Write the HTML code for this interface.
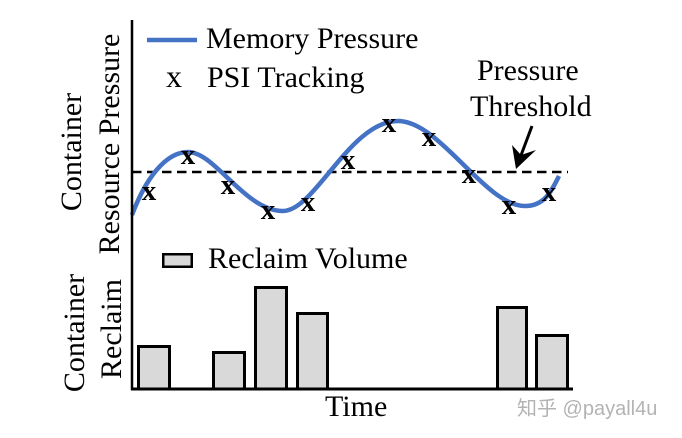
<!DOCTYPE html>
<html>
<head>
<meta charset="utf-8">
<style>
  html, body { margin: 0; padding: 0; background: #ffffff; }
  svg { display: block; }
  .t { font-family: "Liberation Serif", "Times New Roman", serif; font-size: 30px; fill: #000; }
  .m { font-family: "Liberation Serif", "Times New Roman", serif; font-size: 29px; font-weight: bold; fill: #000; }
  .wm { font-family: "Liberation Sans", "Noto Sans CJK SC", sans-serif; font-size: 20px; fill: #b3b3b3; }
</style>
</head>
<body>
<svg width="682" height="438" viewBox="0 0 682 438" xmlns="http://www.w3.org/2000/svg">
  <rect x="0" y="0" width="682" height="438" fill="#ffffff"/>

  <!-- Threshold dashed line -->
  <line x1="132" y1="172" x2="568" y2="172" stroke="#000" stroke-width="2.5" stroke-dasharray="9.5 5.5"/>

  <!-- Memory pressure curve -->
  <path d="M132,215 C145,180 165,152 188,152 C215,152 245,211 283,211 C315,211 350,121 398,121 C440,121 485,206 525,206 C545,206 552,190 559,176"
        fill="none" stroke="#4472C4" stroke-width="4.5" stroke-linecap="butt"/>

  <!-- PSI markers -->
  <g class="m" text-anchor="middle">
    <text x="149" y="200">x</text>
    <text x="188" y="164">x</text>
    <text x="228" y="194">x</text>
    <text x="268" y="219">x</text>
    <text x="308" y="211">x</text>
    <text x="348" y="169">x</text>
    <text x="389" y="132">x</text>
    <text x="429" y="146">x</text>
    <text x="469" y="183">x</text>
    <text x="509" y="214">x</text>
    <text x="549" y="201">x</text>
  </g>

  <!-- Bars -->
  <g fill="#d9d9d9" stroke="#000" stroke-width="3">
    <rect x="138.5" y="346.5" width="31" height="42.5"/>
    <rect x="213.5" y="352.5" width="31" height="36.5"/>
    <rect x="255.5" y="287.5" width="31" height="101.5"/>
    <rect x="297.5" y="313.5" width="30" height="75.5"/>
    <rect x="497.5" y="307.5" width="29" height="81.5"/>
    <rect x="536.5" y="335.5" width="31" height="53.5"/>
  </g>

  <!-- Axes -->
  <line x1="132" y1="20" x2="132" y2="390" stroke="#000" stroke-width="2.5"/>
  <line x1="131" y1="389" x2="573" y2="389" stroke="#000" stroke-width="3"/>

  <!-- Legend top -->
  <line x1="147" y1="40" x2="197" y2="40" stroke="#4472C4" stroke-width="4.5"/>
  <text class="t" x="206" y="48">Memory Pressure</text>
  <text class="t" x="174" y="87" text-anchor="middle" style="font-size:32px">x</text>
  <text class="t" x="207" y="87">PSI Tracking</text>

  <!-- Threshold annotation -->
  <text class="t" x="477" y="80">Pressure</text>
  <text class="t" x="470" y="116">Threshold</text>
  <line x1="532" y1="126" x2="520" y2="158" stroke="#000" stroke-width="3"/>
  <polygon points="516,169 512,145 521,155 536,150" fill="#000"/>

  <!-- Legend bottom -->
  <rect x="163.25" y="254.25" width="28.5" height="12.5" fill="#d9d9d9" stroke="#000" stroke-width="2.5"/>
  <text class="t" x="208" y="268">Reclaim Volume</text>

  <!-- Y axis labels -->
  <text class="t" text-anchor="middle" transform="translate(81,152) rotate(-90)">Container</text>
  <text class="t" text-anchor="middle" transform="translate(119,144) rotate(-90)">Resource Pressure</text>
  <text class="t" text-anchor="middle" transform="translate(84,333) rotate(-90)">Container</text>
  <text class="t" text-anchor="middle" transform="translate(121,329) rotate(-90)">Reclaim</text>

  <!-- X axis label -->
  <text class="t" x="325" y="416">Time</text>

  <!-- Watermark -->
  <text class="wm" x="517" y="415">知乎 @payall4u</text>
</svg>
</body>
</html>
